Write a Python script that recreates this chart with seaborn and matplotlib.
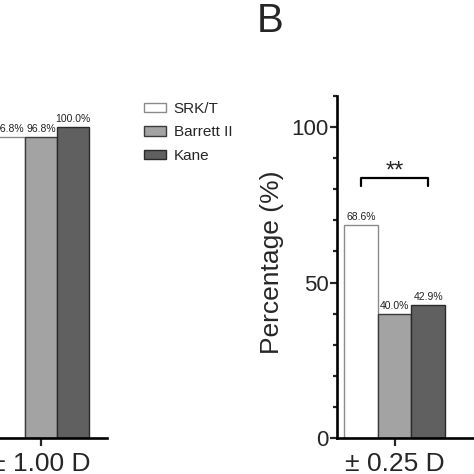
import matplotlib
matplotlib.use('Agg')

import matplotlib.pyplot as plt
import seaborn as sns
import pandas as pd
from matplotlib.patches import Patch
from matplotlib.ticker import MultipleLocator

# ================= DATA =================
formulas = ["SRK/T", "Barrett II", "Kane"]
ranges = ["± 1.00 D", "± 0.25 D"]
pct_100 = [96.8, 96.8, 100.0]
pct_025 = [68.6, 40.0, 42.9]

fill_colors = ["#ffffff", "#a3a3a3", "#606060"]
edge_colors = ["#8a8a8a", "#3a3a3a", "#2a2a2a"]

df = pd.DataFrame({
    "range": [ranges[0]] * 3 + [ranges[1]] * 3,
    "formula": formulas * 2,
    "pct": pct_100 + pct_025,
})

# ================= STYLE =================
sns.set_theme(style="ticks")
plt.rcParams["font.family"] = ["Liberation Sans", "DejaVu Sans"]

W = 474.0
fig = plt.figure(figsize=(4.74, 4.74), dpi=100)

# pixel helpers: y=0 at 438 px, y=110 at 96 px
y0_px, ytop_px = 438.0, 96.0
bottom = (W - y0_px) / W
height = (y0_px - ytop_px) / W

# left panel (mostly cut off)
axA = fig.add_axes([-19 / W, bottom, 126 / W, height])
# right panel
axB = fig.add_axes([337 / W, bottom, 146 / W, height])


def draw(ax, rng, xlim):
    sub = df[df["range"] == rng]
    sns.barplot(data=sub, x="range", y="pct", hue="formula",
                hue_order=formulas, palette=fill_colors, saturation=1,
                width=0.8, legend=False, ax=ax)
    for cont, ec in zip(ax.containers, edge_colors):
        for p in cont:
            p.set_edgecolor(ec)
            p.set_linewidth(1.0)
        ax.bar_label(cont, fmt="%.1f%%", fontsize=7.5, padding=2, color="#222222")
    ax.set_ylim(0, 110)
    ax.set_xlim(*xlim)
    ax.yaxis.set_major_locator(MultipleLocator(50))
    ax.yaxis.set_minor_locator(MultipleLocator(10))
    ax.tick_params(axis="y", which="major", labelsize=16, length=5, width=1.6, pad=1)
    ax.tick_params(axis="y", which="minor", length=3, width=1.6)
    ax.tick_params(axis="x", labelsize=19, length=6, width=1.6, pad=4)
    for s in ["top", "right"]:
        ax.spines[s].set_visible(False)
    for s in ["left", "bottom"]:
        ax.spines[s].set_linewidth(1.9)
        ax.spines[s].set_color("black")
    ax.set_xlabel("")
    ax.set_ylabel("Percentage (%)", fontsize=19)
    ax.yaxis.set_label_coords(-0.36, 0.515)


draw(axA, ranges[0], (-0.5, 0.55))
draw(axB, ranges[1], (-0.456, 0.7))

# significance bracket between SRK/T and Kane
xs = [-0.8 / 3, 0.8 / 3]
axB.plot([xs[0], xs[0], xs[1], xs[1]], [81, 83.5, 83.5, 81],
         color="black", lw=1.6, clip_on=False)
axB.text(0, 82.3, "**", ha="center", va="bottom", fontsize=17)

# legend
handles = [Patch(facecolor=fc, edgecolor=ec, lw=1.0)
           for fc, ec in zip(fill_colors, edge_colors)]
fig.legend(handles, formulas, loc="upper left",
           bbox_to_anchor=(144 / W, 1 - 102 / W), frameon=False,
           fontsize=11, borderpad=0, borderaxespad=0, labelspacing=0.62,
           handlelength=1.45, handleheight=0.6, handletextpad=0.5)

# panel letter
fig.text(257 / W, 1 - 32 / W, "B", fontsize=29, ha="left", va="baseline")

fig.savefig("out.png", dpi=100)
